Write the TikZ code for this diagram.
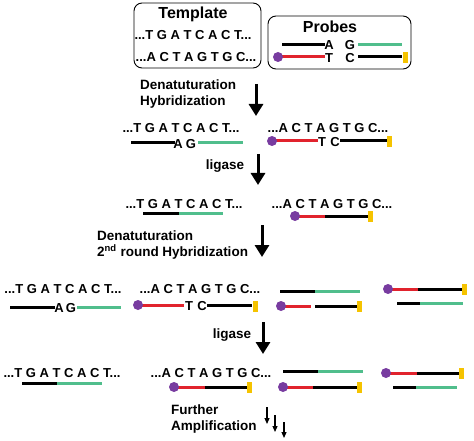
\documentclass[tikz,border=0pt]{standalone}
\usepackage{fontspec}
\setmainfont{Liberation Sans}
\usetikzlibrary{arrows.meta}
\definecolor{probegreen}{RGB}{80,190,140}
\definecolor{probered}{RGB}{225,35,45}
\definecolor{probepurple}{RGB}{120,60,160}
\definecolor{probeyellow}{RGB}{245,195,0}
\begin{document}
\begin{tikzpicture}[x=1pt,y=-1pt,
  seq/.style={font=\fontsize{13}{13}\selectfont\bfseries, inner sep=0pt},
  title/.style={font=\fontsize{16}{16}\selectfont\bfseries, inner sep=0pt},
  lbl/.style={font=\fontsize{13.5}{16.5}\selectfont\bfseries, align=left, anchor=west, inner sep=0pt},
  box/.style={draw, line width=0.9pt, rounded corners=8pt},
  blk/.style={line width=3pt},
  grn/.style={line width=3pt, probegreen},
  rd/.style={line width=3pt, probered},
  dot/.style={circle, fill=probepurple, inner sep=0pt, minimum size=10pt},
  endcap/.style={fill=probeyellow, inner sep=0pt, minimum width=5pt, minimum height=11pt},
  bigarrow/.style={line width=3pt, -{Triangle[width=14pt,length=12pt]}},
  smallarrow/.style={line width=1.2pt, -{Triangle[width=5pt,length=6pt]}}]
\useasboundingbox (0,0) rectangle (474,441);

% template and probes
\draw[box] (134,3) rectangle (261,68);
\node[title](tmpl) at (193,14){Template};
\node[seq](tmplA) at (193,35){...T G A T C A C T...};
\node[seq](tmplB) at (196,57){...A C T A G T G C...};
\draw[box] (268,16) rectangle (411,69);
\node[title](probes) at (330,27){Probes};
\draw[blk] (282,45)--(325,45);
\node[seq](pA) at (329,45){A};
\node[seq](pG) at (350,45){G};
\draw[grn] (358,45)--(402,45);
\draw[rd] (278,57)--(325,57);
\node[dot](pdot) at (278,57){};
\node[seq](pT) at (329,58){T};
\node[seq](pC) at (350,58){C};
\draw[blk] (358,57)--(402,57);
\node[endcap](pcap) at (405,58){};

% first hybridization
\node[lbl](den1) at (140,94){Denatuturation\\Hybridization};
\coordinate (a1s) at (256,84);
\coordinate (a1e) at (256,116);
\draw[bigarrow] (a1s)--(a1e);
\node[seq](r2a) at (181,128){...T G A T C A C T...};
\draw[blk] (131,143)--(175,143);
\node[seq](r2A) at (178,144){A};
\node[seq](r2G) at (191,144){G};
\draw[grn] (198,143)--(243,143);
\node[seq](r2b) at (328,128){...A C T A G T G C...};
\draw[rd] (272,141)--(318,141);
\node[dot](r2dot) at (272,141){};
\node[seq](r2T) at (322,142){T};
\node[seq](r2C) at (335,142){C};
\draw[blk] (340,141)--(387,141);
\node[endcap](r2cap) at (389,141.5){};

% first ligation
\node[lbl, anchor=center](lig1) at (225,166){ligase};
\coordinate (a2s) at (258,154);
\coordinate (a2e) at (258,185);
\draw[bigarrow] (a2s)--(a2e);
\node[seq](r3a) at (184,204){...T G A T C A C T...};
\draw[blk] (143,213)--(179,213);
\draw[grn] (179,213)--(223,213);
\node[seq](r3b) at (332,204){...A C T A G T G C...};
\draw[rd] (295,216)--(325,216);
\draw[blk] (325,216)--(368,216);
\node[dot](r3dot) at (295,216){};
\node[endcap](r3cap) at (370.5,216){};

% second hybridization
\node[lbl](den2) at (97,245){Denatuturation\\2\textsuperscript{nd} round Hybridization};
\coordinate (a3s) at (262,225);
\coordinate (a3e) at (262,257);
\draw[bigarrow] (a3s)--(a3e);
\node[seq](r4a) at (63,289){...T G A T C A C T...};
\draw[blk] (10,307)--(55,307);
\node[seq](r4A) at (59,308){A};
\node[seq](r4G) at (71,308){G};
\draw[grn] (77,307)--(121,307);
\node[seq](r4b) at (200,289){...A C T A G T G C...};
\draw[rd] (138,305)--(184,305);
\node[dot](r4dot) at (138,305){};
\node[seq](r4T) at (189,306){T};
\node[seq](r4C) at (202,306){C};
\draw[blk] (207,305)--(252,305);
\node[endcap](r4cap) at (255,306){};
\draw[blk] (280,291)--(315,291);
\draw[grn] (315,291)--(360,291);
\draw[rd] (281,306)--(311,306);
\node[dot](r4dotb) at (281,306){};
\draw[blk] (315,306)--(357,306);
\node[endcap](r4capb) at (359.5,306){};
\draw[rd] (388,289)--(418,289);
\draw[blk] (418,289)--(462,289);
\node[dot](r4dotc) at (388,289){};
\node[endcap](r4capc) at (464.5,289){};
\draw[blk] (397,303)--(420,303);
\draw[grn] (420,303)--(463,303);

% second ligation
\node[lbl, anchor=center](lig2) at (232,335){ligase};
\coordinate (a4s) at (263,322);
\coordinate (a4e) at (263,354);
\draw[bigarrow] (a4s)--(a4e);
\node[seq](r5a) at (62,373){...T G A T C A C T...};
\draw[blk] (22,383)--(57,383);
\draw[grn] (57,383)--(102,383);
\node[seq](r5b) at (211,373){...A C T A G T G C...};
\draw[rd] (174,387)--(205,387);
\draw[blk] (205,387)--(247,387);
\node[dot](r5dot) at (174,387){};
\node[endcap](r5cap) at (249.5,387){};
\draw[blk] (283,371)--(318,371);
\draw[grn] (318,371)--(363,371);
\draw[rd] (283,387)--(313,387);
\draw[blk] (313,387)--(357,387);
\node[dot](r5dotb) at (283,387){};
\node[endcap](r5capb) at (359.5,387){};
\draw[rd] (386,373)--(417,373);
\draw[blk] (417,373)--(459,373);
\node[dot](r5dotc) at (386,373){};
\node[endcap](r5capc) at (461.5,373){};
\draw[blk] (393,387)--(416,387);
\draw[grn] (416,387)--(457,387);

% amplification
\node[lbl](amp) at (171,419){Further\\Amplification};
\coordinate (s1s) at (267,407);
\coordinate (s1e) at (267,424);
\coordinate (s2s) at (275,415);
\coordinate (s2e) at (275,432);
\coordinate (s3s) at (284,422);
\coordinate (s3e) at (284,438);
\draw[smallarrow] (s1s)--(s1e);
\draw[smallarrow] (s2s)--(s2e);
\draw[smallarrow] (s3s)--(s3e);
\end{tikzpicture}
\end{document}
